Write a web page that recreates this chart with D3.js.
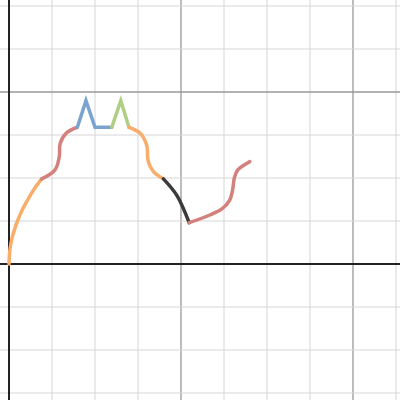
<!DOCTYPE html><html><head><script src="https://cdn.jsdelivr.net/npm/d3@7"></script>
<style>body{margin:0;background:#fff}</style></head><body><svg id="c" width="400" height="400"></svg><script>
const seg1X=[0,0.017,0.07,0.16,0.28,0.44,0.59,0.76], seg1Y=[0,0.3,0.6,0.9,1.2,1.5,1.75,1.98];
const seg2X=[0.76,1.07,1.17,1.19,1.34,1.59], seg2Y=[1.98,2.19,2.5,2.8,3.05,3.18];
const seg3X=[1.59,1.79,2.0,2.39], seg3Y=[3.18,3.8,3.18,3.18];
const seg4X=[2.39,2.6,2.79], seg4Y=[3.18,3.8,3.18];
const seg5X=[2.79,3.05,3.2,3.24,3.36,3.59], seg5Y=[3.18,3.04,2.77,2.38,2.15,1.98];
const seg6X=[3.59,3.9,4.19], seg6Y=[1.98,1.6,0.96];
const seg7X=[4.19,4.67,4.95,5.13,5.2,5.24,5.33,5.6], seg7Y=[0.96,1.14,1.28,1.48,1.72,2.0,2.2,2.38];
const segs=[[seg1X,seg1Y,"#f9ad6a",true],[seg2X,seg2Y,"#d4807c",true],[seg3X,seg3Y,"#7ba3d0",false],[seg4X,seg4Y,"#afcf83",false],[seg5X,seg5Y,"#f9ad6a",true],[seg6X,seg6Y,"#3a3a3a",true],[seg7X,seg7Y,"#d4807c",true]];
const svg=d3.select("#c");
const x=d3.scaleLinear().domain([-9/43,391/43]).range([0,400]);
const y=d3.scaleLinear().domain([264/43,-136/43]).range([0,400]);
for(let i=-3;i<=9;i++){svg.append("line").attr("x1",x(i)).attr("x2",x(i)).attr("y1",0).attr("y2",400).attr("stroke",i%4===0?"#999":"#d6d6d6").attr("stroke-width",i%4===0?1.3:1);}
for(let i=-3;i<=6;i++){svg.append("line").attr("y1",y(i)).attr("y2",y(i)).attr("x1",0).attr("x2",400).attr("stroke",i%4===0?"#999":"#d6d6d6").attr("stroke-width",i%4===0?1.3:1);}
svg.append("line").attr("x1",x(0)).attr("x2",x(0)).attr("y1",0).attr("y2",400).attr("stroke","#222").attr("stroke-width",2);
svg.append("line").attr("y1",y(0)).attr("y2",y(0)).attr("x1",0).attr("x2",400).attr("stroke","#222").attr("stroke-width",2);
segs.forEach(([xs,ys,c,smooth])=>{
 const pts=xs.map((v,i)=>[x(v),y(ys[i])]);
 svg.append("path").attr("d",d3.line().curve(smooth?d3.curveCatmullRom:d3.curveLinear)(pts)).attr("fill","none").attr("stroke",c).attr("stroke-width",3.5).attr("stroke-linecap","round");
});
</script></body></html>
